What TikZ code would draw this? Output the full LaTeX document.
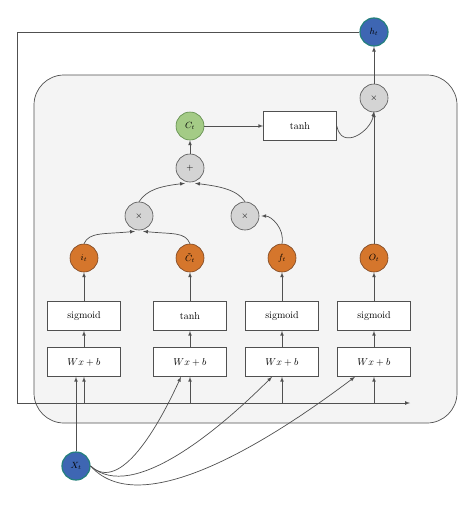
\documentclass[tikz,border=0pt]{standalone}
\usepackage{amsmath,amssymb}
\usepackage{xcolor}
\usepackage{tikz}
\usetikzlibrary{arrows,calc,positioning}
\definecolor{cellbg}{HTML}{F4F4F4}
\definecolor{gatefill}{HTML}{D5762C}
\definecolor{gateline}{HTML}{7A4420}
\definecolor{opfill}{HTML}{D4D4D4}
\definecolor{cellfill}{HTML}{A4CB86}
\definecolor{cellline}{HTML}{5D8A48}
\definecolor{iofill}{HTML}{3E66B3}
\definecolor{ioline}{HTML}{23807C}
\definecolor{wire}{HTML}{505050}

\begin{document}
\begin{tikzpicture}[
    x=1pt, y=-1pt,
    arr/.style={draw=wire, line width=0.7pt, -latex},
    wire/.style={draw=wire, line width=0.7pt},
    op/.style={circle, draw=wire, fill=opfill, line width=0.6pt, minimum size=28pt, inner sep=0, font=\small},
    gate/.style={circle, draw=gateline, fill=gatefill, line width=0.6pt, minimum size=28pt, inner sep=0, font=\small},
    state/.style={circle, draw=cellline, fill=cellfill, line width=0.6pt, minimum size=28pt, inner sep=0, font=\small},
    io/.style={circle, draw=ioline, fill=iofill, line width=1.2pt, minimum size=28pt, inner sep=0, font=\small},
    fn/.style={rectangle, draw=wire, fill=white, line width=0.6pt, minimum width=73pt, minimum height=29pt, inner sep=0, font=\normalsize}]
\useasboundingbox (0,0) rectangle (474,506);

% cell body
\draw[wire, fill=cellbg, rounded corners=30pt] (34,75) rectangle (457,423);

% layers
\node[fn] (wx1) at (84,362) {$Wx+b$};
\node[fn] (wx2) at (190,362) {$Wx+b$};
\node[fn] (wx3) at (282,362) {$Wx+b$};
\node[fn] (wx4) at (374,362) {$Wx+b$};
\node[fn] (act1) at (84,316) {sigmoid};
\node[fn] (act2) at (190,316) {tanh};
\node[fn] (act3) at (282,316) {sigmoid};
\node[fn] (act4) at (374,316) {sigmoid};

% gates
\node[gate] (it) at (84,258) {$i_t$};
\node[gate] (ct) at (190,258) {$\tilde{C}_t$};
\node[gate] (ft) at (282,258) {$f_t$};
\node[gate] (ot) at (374,258) {$O_t$};

% operations
\node[op] (mul1) at (139,216) {$\times$};
\node[op] (mul2) at (245,216) {$\times$};
\node[op] (add) at (190,168) {$+$};
\node[state] (cell) at (190,126) {$C_t$};
\node[fn] (tanh) at (300,126) {tanh};
\node[op] (mul3) at (374,98) {$\times$};
\node[io] (ht) at (374,32) {$h_t$};
\node[io] (xt) at (76,466) {$X_t$};

% feedback of h_t
\coordinate (corner) at (17,33);
\coordinate (bus) at (17,403);
\coordinate (busend) at (410,403);
\path[wire] (ht.west) -- (corner |- ht.west) -- (bus);
\path[arr] (bus) -- (busend);

\path[arr] (wx1.south |- bus) -- (wx1.south);
\path[arr] (wx2.south |- bus) -- (wx2.south);
\path[arr] (wx3.south |- bus) -- (wx3.south);
\path[arr] (wx4.south |- bus) -- (wx4.south);

% input x_t
\path[arr] (xt.north) -- (xt.north |- wx1.south);
\path[arr] (xt.east) .. controls +(30,28) and +(-22,48) .. ([xshift=-9pt]wx2.south);
\path[arr] (xt.east) .. controls +(42,38) and +(-50,50) .. ([xshift=-10pt]wx3.south);
\path[arr] (xt.east) .. controls +(55,62) and +(-60,45) .. ([xshift=-19pt]wx4.south);

\path[arr] (wx1) -- (act1);
\path[arr] (wx2) -- (act2);
\path[arr] (wx3) -- (act3);
\path[arr] (wx4) -- (act4);
\path[arr] (act1) -- (it);
\path[arr] (act2) -- (ct);
\path[arr] (act3) -- (ft);
\path[arr] (act4) -- (ot);

% cell state
\path[arr] (it.north) .. controls +(5,-12) and +(-30,3) .. ([xshift=-4pt, yshift=-1pt]mul1.south);
\path[arr] (ct.north) .. controls +(-5,-12) and +(30,3) .. ([xshift=4pt, yshift=-1pt]mul1.south);
\path[arr] (ft.north) .. controls +(3,-15) and +(10,0) .. ([xshift=2pt]mul2.east);
\path[arr] (mul1.north) .. controls +(8,-12) and +(-25,3) .. ([xshift=-5pt, yshift=-1pt]add.south);
\path[arr] (mul2.north) .. controls +(-8,-12) and +(25,3) .. ([xshift=5pt, yshift=-1pt]add.south);
\path[arr] (add) -- (cell);
\path[arr] (cell) -- (tanh);
\path[arr] (tanh.east) .. controls +(5,25) and +(-3,20) .. ([yshift=1pt]mul3.south);
\path[arr] (ot) -- (mul3);
\path[arr] (mul3) -- (ht);

\end{tikzpicture}
\end{document}
